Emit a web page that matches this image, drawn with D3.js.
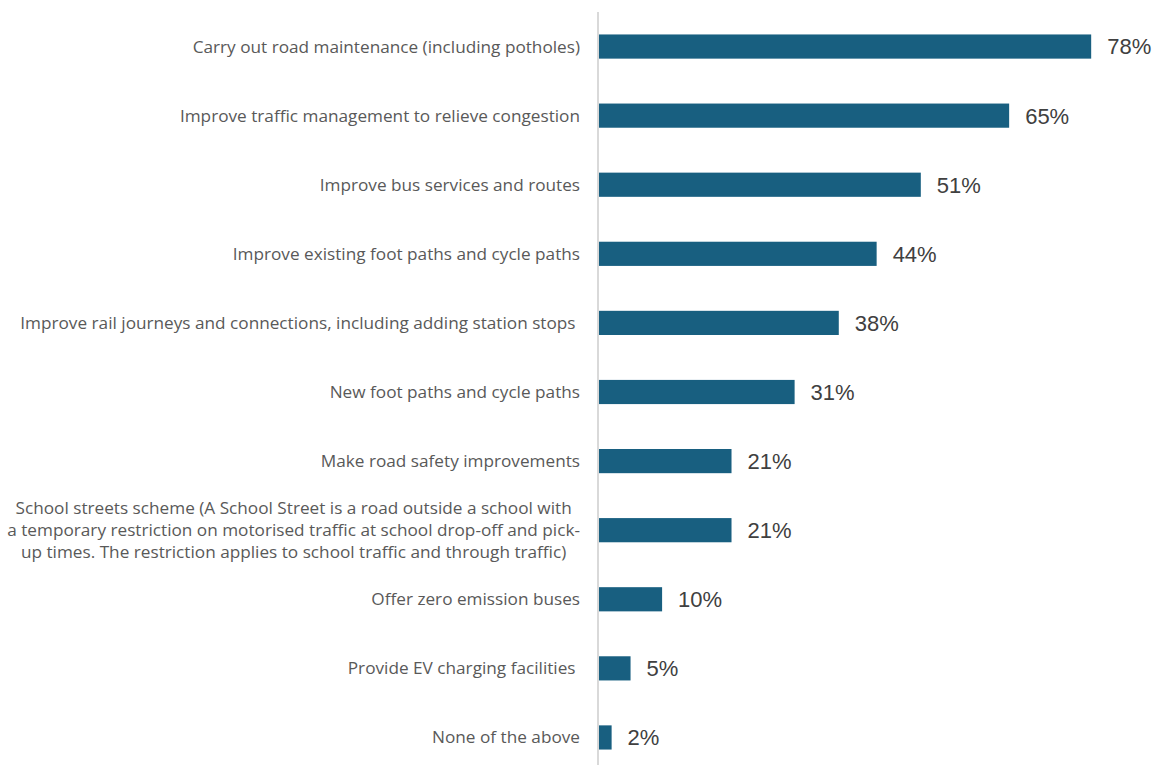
<!DOCTYPE html>
<html>
<head>
<meta charset="utf-8">
<script src="https://cdn.jsdelivr.net/npm/d3@7"></script>
<style>
  html, body { margin: 0; padding: 0; background: #ffffff; }
  svg { display: block; }
</style>
</head>
<body>
<svg id="chart" width="1165" height="765"></svg>
<script>
// Survey options (each entry may hold several wrapped lines)
const categories = [
  ["Carry out road maintenance (including potholes)"],
  ["Improve traffic management to relieve congestion"],
  ["Improve bus services and routes"],
  ["Improve existing foot paths and cycle paths"],
  ["Improve rail journeys and connections, including adding station stops\u00a0"],
  ["New foot paths and cycle paths"],
  ["Make road safety improvements"],
  ["School streets scheme (A School Street is a road outside a school with",
   "a temporary restriction on motorised traffic at school drop-off and pick-",
   "up times. The restriction applies to school traffic and through traffic)"],
  ["Offer zero emission buses"],
  ["Provide EV charging facilities\u00a0"],
  ["None of the above"]
];
// Share of respondents choosing each option (%)
const values = [78, 65, 51, 44, 38, 31, 21, 21, 10, 5, 2];

const svg = d3.select("#chart");
const axisX = 598;
const labelRight = 580;

const x = d3.scaleLinear().domain([0, 100]).range([axisX + 1, axisX + 1 + 631]);
const y = d3.scaleBand()
  .domain(d3.range(categories.length))
  .range([12, 772])
  .paddingInner(0.65)
  .paddingOuter(0.325);

// Bars
svg.append("g").selectAll("rect")
  .data(values)
  .join("rect")
  .attr("x", x(0))
  .attr("y", (d, i) => y(i))
  .attr("width", d => x(d) - x(0))
  .attr("height", y.bandwidth())
  .attr("fill", "#185f80");

// Vertical category axis line
svg.append("line")
  .attr("x1", axisX).attr("x2", axisX)
  .attr("y1", 12).attr("y2", 765)
  .attr("stroke", "#d9d9d9")
  .attr("stroke-width", 2);

// Value labels
svg.append("g").selectAll("text")
  .data(values)
  .join("text")
  .attr("x", d => x(d) + 16)
  .attr("y", (d, i) => y(i) + y.bandwidth() / 2)
  .attr("dy", "0.36em")
  .attr("font-family", "Liberation Sans, Arial, sans-serif")
  .attr("font-size", 22)
  .attr("fill", "#404040")
  .text(d => d + "%");

// Category labels (multi-line labels are centred as a block, right-aligned to the axis gap)
const lineH = 22;
const labelG = svg.append("g")
  .attr("font-family", "Open Sans, sans-serif")
  .attr("font-size", 17.2)
  .attr("fill", "#595959");

categories.forEach((lines, i) => {
  const cy = y(i) + y.bandwidth() / 2;
  if (lines.length === 1) {
    labelG.append("text")
      .attr("x", labelRight)
      .attr("y", cy)
      .attr("dy", "0.35em")
      .attr("text-anchor", "end")
      .text(lines[0]);
  } else {
    const t = labelG.append("text").attr("text-anchor", "middle");
    const spans = lines.map((ln, k) => t.append("tspan")
      .attr("y", cy + (k - (lines.length - 1) / 2) * lineH)
      .attr("dy", "0.35em")
      .text(ln));
    const maxW = d3.max(spans, s => s.node().getComputedTextLength());
    spans.forEach(s => s.attr("x", labelRight - maxW / 2));
  }
});
</script>
</body>
</html>
